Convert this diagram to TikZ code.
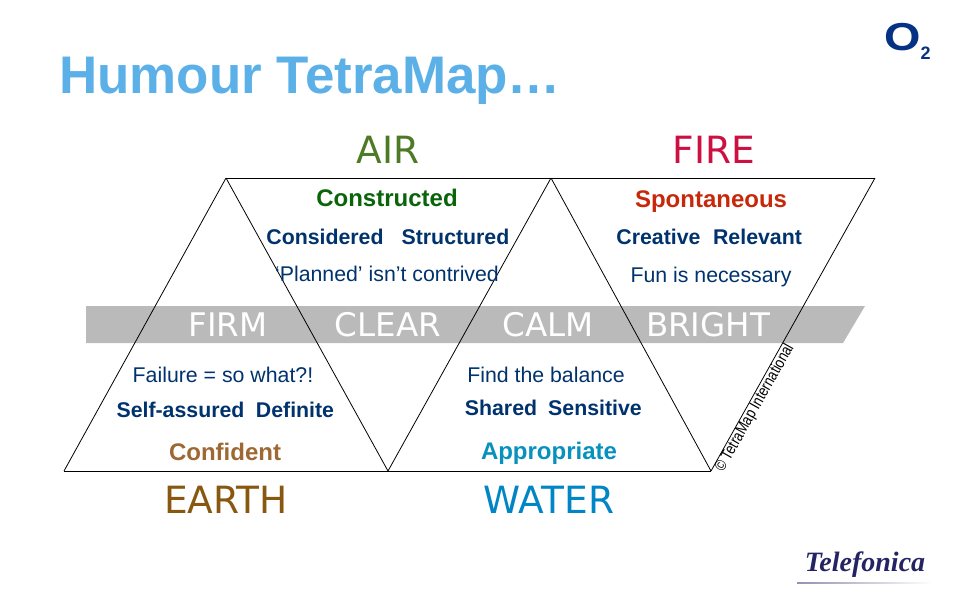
\documentclass[tikz,border=0pt]{standalone}
\usepackage{fontspec}
\setmainfont{Liberation Sans}
\newfontfamily\elemfont{DejaVu Sans}
\newfontfamily\logofont{Liberation Serif}
\definecolor{titleblue}{RGB}{92,176,232}
\definecolor{navy}{RGB}{0,51,110}
\definecolor{otwoblue}{RGB}{5,50,130}
\definecolor{airgreen}{RGB}{78,122,38}
\definecolor{firered}{RGB}{205,16,66}
\definecolor{earthbrown}{RGB}{136,88,16}
\definecolor{waterblue}{RGB}{0,134,196}
\definecolor{consgreen}{RGB}{10,100,10}
\definecolor{sponred}{RGB}{200,40,10}
\definecolor{confbrown}{RGB}{158,104,50}
\definecolor{apprblue}{RGB}{8,144,190}
\definecolor{bandgrey}{RGB}{186,186,186}
\definecolor{logonavy}{RGB}{36,36,100}
\tikzset{
 element/.style={font=\elemfont\fontsize{37.5}{37.5}\selectfont,anchor=base,inner sep=0pt},
 band/.style={font=\elemfont\fontsize{32.5}{32.5}\selectfont,text=white,anchor=base,inner sep=0pt},
 head/.style={font=\bfseries\fontsize{24}{24}\selectfont,anchor=base,inner sep=0pt},
 trait/.style={font=\bfseries\fontsize{21.3}{21.3}\selectfont,text=navy,anchor=base,inner sep=0pt},
 plain/.style={font=\fontsize{21.3}{21.3}\selectfont,text=navy,anchor=base,inner sep=0pt},
 tri/.style={draw=black,line width=0.8pt},
}
\begin{document}
\begin{tikzpicture}[x=1pt,y=-1pt]
\useasboundingbox (0,0) rectangle (960,600);
\fill[white] (0,0) rectangle (960,600);

\node[font=\bfseries\fontsize{52.9}{52.9}\selectfont,text=titleblue,anchor=base west,inner sep=0pt] (title) at (59,93.5) {Humour TetraMap…};

% grey band behind the triangles
\fill[bandgrey] (86,306) -- (865,306) -- (843,343) -- (86,343) -- cycle;

\coordinate (T1) at (226,178);
\coordinate (T2) at (551,178);
\coordinate (T3) at (875,178);
\coordinate (B1) at (64,471);
\coordinate (B2) at (388,471);
\coordinate (B3) at (711,471);

\draw[tri] (T1) -- (T3);
\draw[tri] (B1) -- (B3);
\draw[tri] (B1) -- (T1);
\draw[tri] (T1) -- (B2);
\draw[tri] (B2) -- (T2);
\draw[tri] (T2) -- (B3);
\draw[tri] (B3) -- (T3);

\node[element,text=airgreen] (air) at (388,163) {AIR};
\node[element,text=firered] (fire) at (714,163) {FIRE};
\node[element,text=earthbrown] (earth) at (226,513) {EARTH};
\node[element,text=waterblue] (water) at (549,513) {WATER};

\node[band] (firm) at (228,336) {FIRM};
\node[band] (clear) at (388,336) {CLEAR};
\node[band] (calm) at (548,336) {CALM};
\node[band] (bright) at (708,336) {BRIGHT};

\node[head,text=consgreen] (constructed) at (387,206) {Constructed};
\node[trait] (considered) at (325,244) {Considered};
\node[trait] (structured) at (455.5,244) {Structured};
\node[plain] (planned) at (387,281) {‘Planned’ isn’t contrived};

\node[head,text=sponred] (spontaneous) at (711,207) {Spontaneous};
\node[trait] (creative) at (658.5,244) {Creative};
\node[trait] (relevant) at (757.5,244) {Relevant};
\node[plain] (fun) at (711,282) {Fun is necessary};

\node[plain] (failure) at (223,382) {Failure = so what?!};
\node[trait] (assured) at (180.5,417) {Self-assured};
\node[trait] (definite) at (295,417) {Definite};
\node[head,text=confbrown] (confident) at (225,460) {Confident};

\node[plain] (balance) at (546,382) {Find the balance};
\node[trait] (shared) at (501,415) {Shared};
\node[trait] (sensitive) at (595,415) {Sensitive};
\node[head,text=apprblue] (appropriate) at (549,459) {Appropriate};

\node[rotate=60.5,font=\fontsize{16}{16}\selectfont,inner sep=0pt] (copy) at (755,408) {\scalebox{.82}[1]{© TetraMap International}};

% logos
\node[font=\bfseries\fontsize{39}{39}\selectfont,text=otwoblue,inner sep=0pt] (otwo) at (903,37) {\scalebox{1.2}[1]{O}};
\node[font=\bfseries\fontsize{18}{18}\selectfont,text=otwoblue,inner sep=0pt] (two) at (925.5,53.5) {2};
\node[font=\logofont\bfseries\itshape\fontsize{28}{28}\selectfont,text=logonavy,inner sep=0pt] (telefonica) at (865,565) {Telefonica};
\shade[left color=logonavy!50,middle color=logonavy,right color=white] (797,582) rectangle (932,583.5);
\end{tikzpicture}
\end{document}
